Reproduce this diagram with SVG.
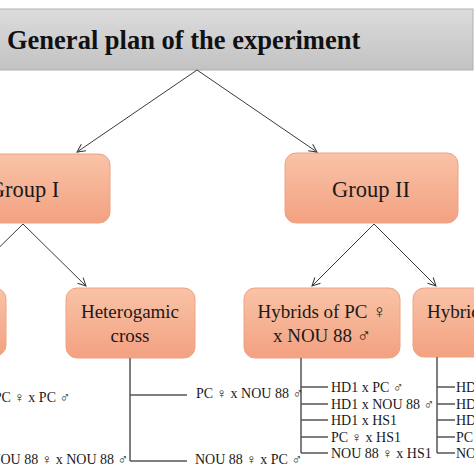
<svg xmlns="http://www.w3.org/2000/svg" width="474" height="474" viewBox="0 0 474 474">
<defs>
<linearGradient id="gTitle" x1="0" y1="0" x2="0" y2="1">
<stop offset="0" stop-color="#dcdcdc"/>
<stop offset="1" stop-color="#c2c2c2"/>
</linearGradient>
<linearGradient id="gBox" x1="0" y1="0" x2="0" y2="1">
<stop offset="0" stop-color="#f9c3a7"/>
<stop offset="1" stop-color="#f3a181"/>
</linearGradient>
<marker id="arr" markerWidth="10" markerHeight="10" refX="9" refY="5" orient="auto" markerUnits="userSpaceOnUse">
<path d="M1,1 L9,5 L1,9" fill="none" stroke="#3a3a3a" stroke-width="1"/>
</marker>
<style>
.box{fill:url(#gBox);stroke:#eea283;stroke-width:1}
.bt{font-family:'Liberation Serif','Times New Roman','DejaVu Serif',serif;fill:#1a1a1a;text-anchor:middle}
.lbl{font-family:'Liberation Serif','Times New Roman','DejaVu Serif',serif;font-size:14px;fill:#1a1a1a}
.arrow{stroke:#3a3a3a;stroke-width:1;fill:none;marker-end:url(#arr)}
.tree{stroke:#555;stroke-width:1.5;fill:none}
</style>
</defs>
<g id="title">
<rect x="-5" y="9" width="478" height="61" fill="url(#gTitle)" stroke="#b0b0b0" stroke-width="1"/>
<text x="7" y="49" style="font-family:'Liberation Serif','Times New Roman',serif;font-weight:bold;font-size:26.5px" fill="#111">General plan of the experiment</text>
</g>
<g id="group1">
<rect class="box" x="-63" y="154" width="173" height="69" rx="11"/>
<text class="bt" x="24" y="197" font-size="22.5">Group I</text>
</g>
<g id="group2">
<rect class="box" x="285" y="153" width="173" height="70" rx="11"/>
<text class="bt" x="371" y="197" font-size="22.5">Group II</text>
</g>
<g id="hidden-left">
<rect class="box" x="-120" y="288" width="126" height="68" rx="11"/>
</g>
<g id="heterogamic">
<rect class="box" x="66" y="288" width="129" height="70" rx="11"/>
<text class="bt" x="130" y="318" font-size="19">Heterogamic</text>
<text class="bt" x="130" y="342" font-size="19">cross</text>
</g>
<g id="hybrids-pc">
<rect class="box" x="244" y="288" width="156" height="70" rx="11"/>
<text class="bt" x="322" y="318" font-size="19">Hybrids of PC ♀</text>
<text class="bt" x="322" y="342" font-size="19">x NOU 88 ♂</text>
</g>
<g id="hybrids-nou">
<rect class="box" x="413" y="288" width="156" height="69" rx="11"/>
<text class="bt" x="427" y="318" font-size="19" style="text-anchor:start">Hybrids of NOU 88 ♀</text>
</g>
<g id="connectors">
<line class="arrow" x1="197" y1="70" x2="77" y2="152"/>
<line class="arrow" x1="197" y1="70" x2="317" y2="152"/>
<line class="arrow" x1="23" y1="224" x2="-40" y2="286"/>
<line class="arrow" x1="23" y1="224" x2="86" y2="286"/>
<line class="arrow" x1="374" y1="224" x2="312" y2="286"/>
<line class="arrow" x1="374" y1="224" x2="436" y2="286"/>
<path class="tree" d="M130,358 V461 M130,395 H187 M130,461 H187"/>
<path class="tree" d="M301,358 V453 M301,387 H328 M301,404 H328 M301,420 H328 M301,437 H328 M301,453 H328"/>
<path class="tree" d="M437,357 V453 M437,387 H455 M437,404 H455 M437,420 H455 M437,437 H455 M437,453 H455"/>
</g>
<g id="labels">
<text class="lbl" x="70" y="402" text-anchor="end">PC ♀ x PC ♂</text>
<text class="lbl" x="128" y="464" text-anchor="end">NOU 88 ♀ x NOU 88 ♂</text>
<text class="lbl" x="196" y="398">PC ♀ x NOU 88 ♂</text>
<text class="lbl" x="195" y="464">NOU 88 ♀ x PC ♂</text>
<text class="lbl" x="331" y="392">HD1 x PC ♂</text>
<text class="lbl" x="331" y="409">HD1 x NOU 88 ♂</text>
<text class="lbl" x="331" y="425">HD1 x HS1</text>
<text class="lbl" x="331" y="442">PC ♀ x HS1</text>
<text class="lbl" x="331" y="458">NOU 88 ♀ x HS1</text>
<text class="lbl" x="456" y="392">HD2 x PC ♂</text>
<text class="lbl" x="456" y="409">HD2 x NOU 88 ♂</text>
<text class="lbl" x="456" y="425">HD2 x HS1</text>
<text class="lbl" x="456" y="442">PC ♀ x HS1</text>
<text class="lbl" x="456" y="458">NOU 88 ♀ x HS1</text>
</g>
</svg>
